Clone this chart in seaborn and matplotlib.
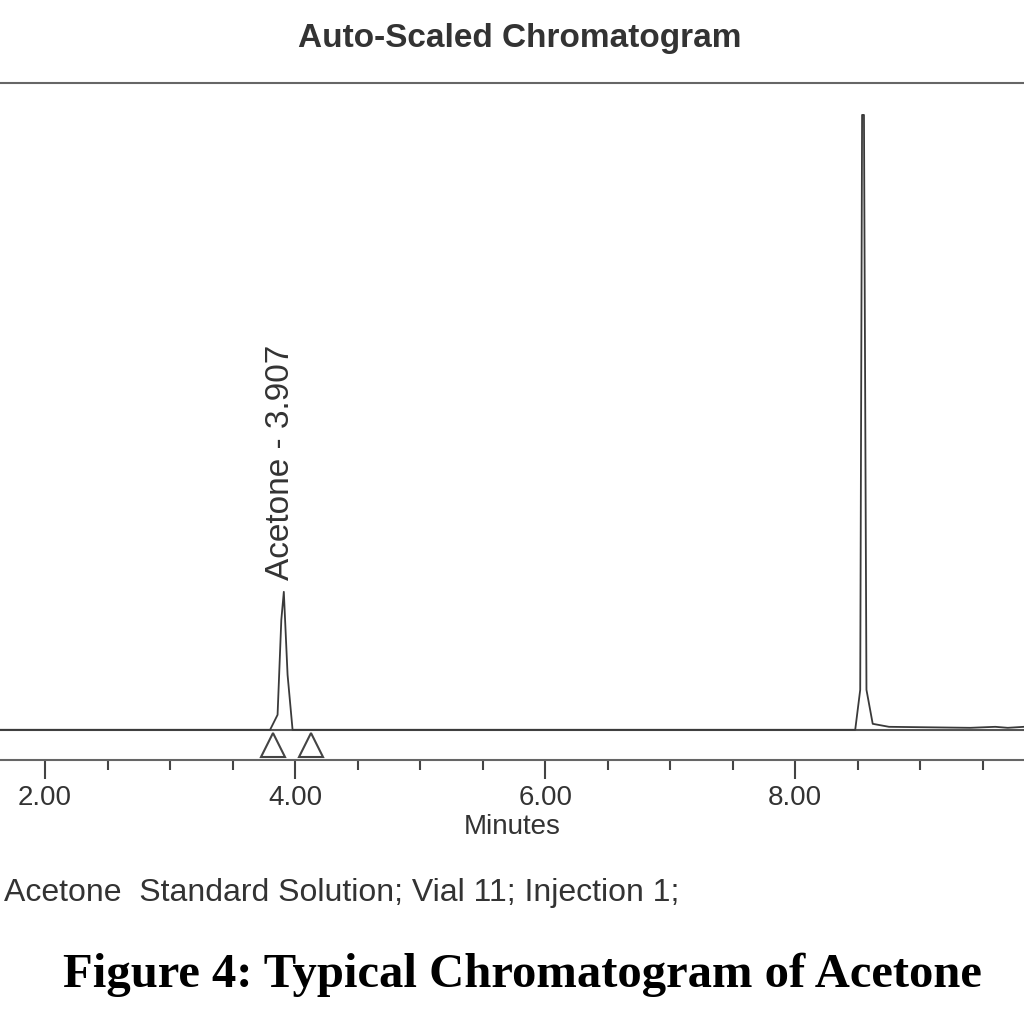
import numpy as np
import pandas as pd
import matplotlib
matplotlib.use('Agg')
import matplotlib.pyplot as plt
import seaborn as sns

# trace (minutes, signal)
times = [1.64, 3.80, 3.86, 3.89, 3.91, 3.94, 3.98, 6.20, 8.48, 8.52, 8.535, 8.55, 8.57, 8.62, 8.75, 9.40, 9.60, 9.70, 9.83]
signal = [0, 0, 15, 110, 138, 55, 0, 0, 0, 40, 615, 615, 40, 6, 3, 2, 3, 2, 3]
peak_name = 'Acetone - 3.907'
peak_rt = 3.907
base_marks = [3.82, 4.13]

df = pd.DataFrame({'Minutes': times, 'Signal': signal})

sns.set_style('white')
plt.rcParams['font.family'] = ['Liberation Sans', 'DejaVu Sans']
fig = plt.figure(figsize=(10.24, 10.24), dpi=100)
ax = fig.add_axes([0, 0.258, 1, 0.661])

sns.lineplot(data=df, x='Minutes', y='Signal', ax=ax, color='#3a3a3a', linewidth=1.3)
ax.axhline(0, color='#555555', linewidth=1.5, zorder=1)
ax.plot(base_marks, [-15, -15], linestyle='none', marker='^', markersize=17,
        markerfacecolor='white', markeredgecolor='#444444', markeredgewidth=1.5, clip_on=False)
ax.text(peak_rt - 0.02, 150, peak_name, rotation=90, ha='center', va='bottom',
        fontsize=24, color='#333333')

ax.set_xticks([2, 4, 6, 8, 10])
ax.set_xticklabels(['2.00', '4.00', '6.00', '8.00', '10.00'])
ax.set_xticks(np.arange(1.5, 10.01, 0.5), minor=True)
# limits after ticks, otherwise set_xticks widens them
ax.set_xlim(1.64, 9.83)
ax.set_ylim(-30, 647)
ax.tick_params(axis='x', which='major', direction='out', length=14, width=1.5,
               color='#444444', labelsize=20, labelcolor='#333333', pad=4, bottom=True)
ax.tick_params(axis='x', which='minor', direction='out', length=7, width=1.5,
               color='#444444', bottom=True)
ax.set_yticks([])
ax.set_xlabel('Minutes', fontsize=20, color='#333333', labelpad=2)
ax.set_ylabel('')
for s in ['left', 'right']:
    ax.spines[s].set_visible(False)
for s in ['top', 'bottom']:
    ax.spines[s].set_color('#666666')
    ax.spines[s].set_linewidth(1.5)

fig.text(0.508, 0.962, 'Auto-Scaled Chromatogram', ha='center', va='center',
         fontsize=24, fontweight='bold', color='#333333')
fig.text(0.004, 0.128, 'Acetone  Standard Solution; Vial 11; Injection 1; ', ha='left', va='center',
         fontsize=23, color='#333333')
fig.text(0.51, 0.048, 'Figure 4: Typical Chromatogram of Acetone', ha='center', va='center',
         fontsize=35, fontweight='bold', family=['Liberation Serif', 'DejaVu Serif'], color='black')

fig.savefig('out.png', dpi=100)
